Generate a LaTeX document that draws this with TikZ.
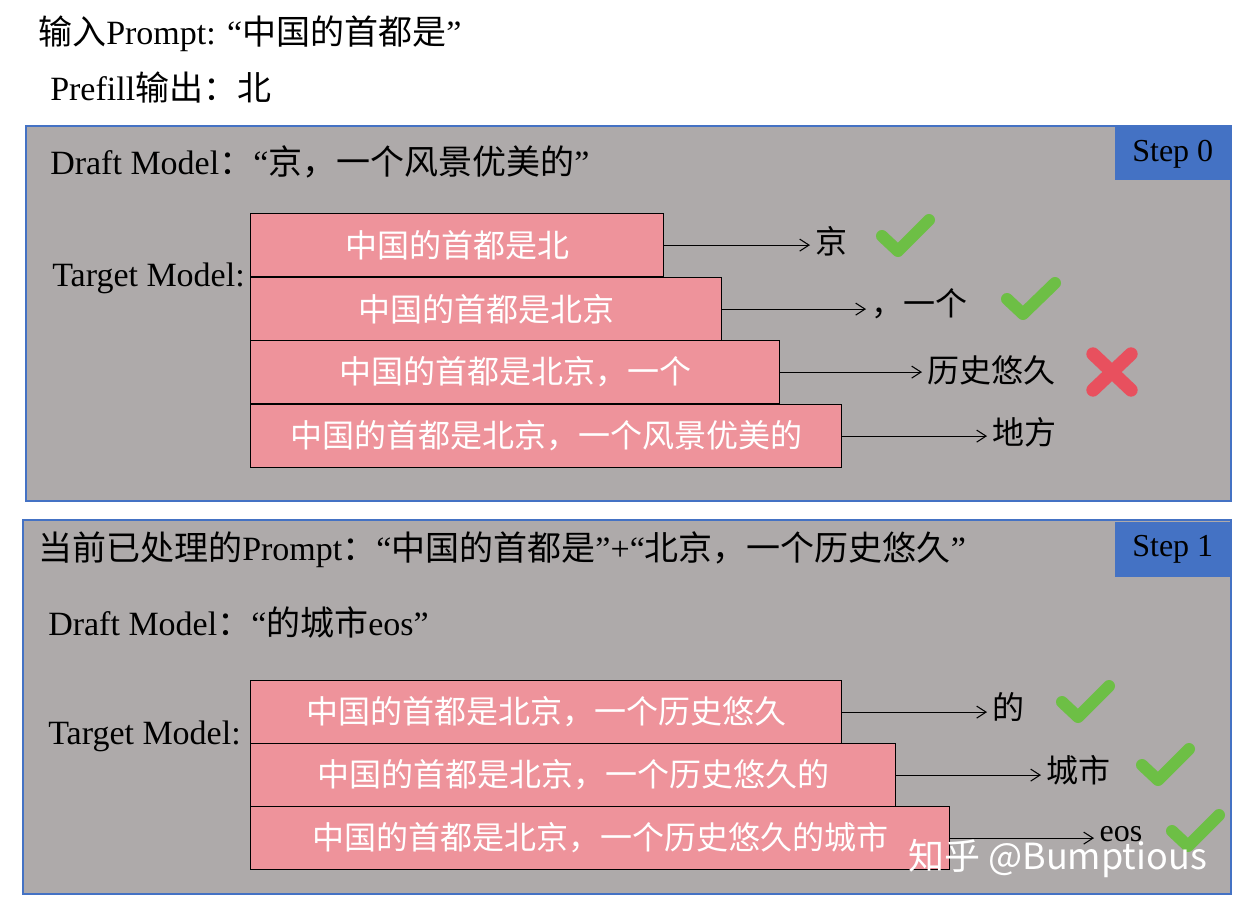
\documentclass[tikz,border=0pt]{standalone}
\usepackage{fontspec}
\setmainfont{Liberation Serif}
\newfontfamily\cjk{Noto Sans CJK SC}
\newfontfamily\wmfont{Noto Sans CJK SC}
\usetikzlibrary{arrows.meta}
\definecolor{panelgray}{HTML}{AEAAAA}
\definecolor{panelblue}{HTML}{4472C4}
\definecolor{pinkbox}{HTML}{EE939B}
\definecolor{okgreen}{HTML}{6DBF45}
\definecolor{badred}{HTML}{E8505E}
\tikzset{
  panel/.style={draw=panelblue, line width=1.2pt, fill=panelgray},
  steplabel/.style={fill=panelblue, anchor=north west, inner sep=0pt, font=\fontsize{24}{27}\selectfont, text=black},
  pbox/.style={draw=black, line width=0.9pt, fill=pinkbox, anchor=north west, inner sep=0pt, text=white, font=\cjk\fontsize{24}{27}\selectfont},
  txt/.style={anchor=west, inner sep=0pt, font=\fontsize{25.5}{28}\selectfont},
  outl/.style={anchor=west, inner sep=4pt, font=\cjk\fontsize{24}{27}\selectfont},
  arr/.style={-{Straight Barb[length=7pt,width=9pt]}, line width=0.8pt},
  okmark/.style={draw=okgreen, line width=9pt, line cap=round, line join=round},
  badmark/.style={draw=badred, line width=10pt, line cap=round}
}
\begin{document}
\begin{tikzpicture}[x=0.75pt,y=-0.75pt]
\useasboundingbox (0,0) rectangle (1254,914);
\node[txt] (in) at (38,34) {\cjk 输入\rmfamily Prompt: “\cjk 中国的首都是\rmfamily ”};
\node[txt] (pf) at (50,88) {Prefill\cjk 输出：北};
% panel 1
\node[panel, anchor=north west, minimum width={1205*0.75pt}, minimum height={375*0.75pt}, inner sep=0pt] (p1) at (25,125) {};
\node[steplabel, minimum width={115*0.75pt}, minimum height={53*0.75pt}] (s0) at (1115,127) {Step 0};
\node[txt] (d1) at (50,162) {Draft Model\cjk ：\rmfamily “\cjk 京，一个风景优美的\rmfamily ”};
\node[txt] (t1) at (52,278) {Target Model:};
\node[pbox, minimum width={413*0.75pt}, minimum height={63*0.75pt}] (a1) at (250,213) {中国的首都是北};
\node[pbox, minimum width={471*0.75pt}, minimum height={63*0.75pt}] (a2) at (250,277) {中国的首都是北京};
\node[pbox, minimum width={529*0.75pt}, minimum height={63*0.75pt}] (a3) at (250,340) {中国的首都是北京，一个};
\node[pbox, minimum width={591*0.75pt}, minimum height={63*0.75pt}] (a4) at (250,404) {中国的首都是北京，一个风景优美的};
\node[outl] (o1) at (810,241) {京};
\node[outl] (o2) at (866,304) {，一个};
\node[outl] (o3) at (922,370) {历史悠久};
\node[outl] (o4) at (987,432) {地方};
\draw[arr] (a1.east) -- (a1.east -| o1.west);
\draw[arr] (a2.east) -- (a2.east -| o2.west);
\draw[arr] (a3.east) -- (a3.east -| o3.west);
\draw[arr] (a4.east) -- (a4.east -| o4.west);
\draw[okmark] (882,236) -- (898,251) -- (929,220);
\draw[okmark] (1007,299) -- (1023,314) -- (1055,283);
\draw[badmark] (1093,354) -- (1131,390) (1131,354) -- (1093,390);
% panel 2
\node[panel, anchor=north west, minimum width={1208*0.75pt}, minimum height={374*0.75pt}, inner sep=0pt] (p2) at (22,519) {};
\node[steplabel, minimum width={115*0.75pt}, minimum height={55*0.75pt}] (s1) at (1115,522) {Step 1};
\node[txt] (cp) at (38,550) {\cjk 当前已处理的\rmfamily Prompt\cjk ：\rmfamily “\cjk 中国的首都是\rmfamily ”+“\cjk 北京，一个历史悠久\rmfamily ”};
\node[txt] (d2) at (48,622) {Draft Model\cjk ：\rmfamily “\cjk 的城市\rmfamily eos”};
\node[txt] (t2) at (48,736) {Target Model:};
\node[pbox, minimum width={591*0.75pt}, minimum height={63*0.75pt}] (b1) at (250,680) {中国的首都是北京，一个历史悠久};
\node[pbox, minimum width={645*0.75pt}, minimum height={63*0.75pt}] (b2) at (250,743) {中国的首都是北京，一个历史悠久的};
\node[pbox, minimum width={699*0.75pt}, minimum height={63*0.75pt}] (b3) at (250,806) {中国的首都是北京，一个历史悠久的城市};
\node[outl] (q1) at (987,707) {的};
\node[outl] (q2) at (1041,770) {城市};
\node[outl] (q3) at (1094,834) {\rmfamily eos};
\draw[arr] (b1.east) -- (b1.east -| q1.west);
\draw[arr] (b2.east) -- (b2.east -| q2.west);
\draw[arr] (b3.east) -- (b3.east -| q3.west);
\draw[okmark] (1062,702) -- (1078,717) -- (1109,686);
\draw[okmark] (1142,765) -- (1158,780) -- (1189,749);
\draw[okmark] (1172,831) -- (1188,846) -- (1219,815);
\node[anchor=west, inner sep=0pt, text=white, font=\wmfont\fontsize{27}{30}\selectfont] (wm) at (908,858) {知乎 @Bumptious};
\end{tikzpicture}
\end{document}
